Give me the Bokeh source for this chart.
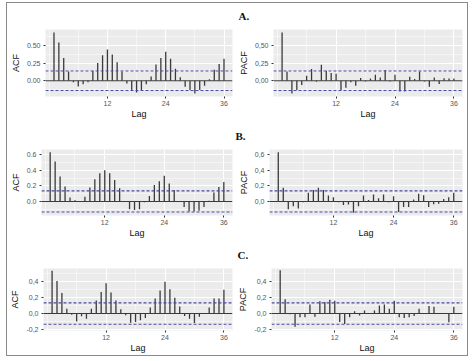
from bokeh.plotting import figure
from bokeh.layouts import column, row
from bokeh.models import FixedTicker, Span, CustomJSTickFormatter, Range1d, ColumnDataSource
from bokeh.embed import file_html
from bokeh.resources import INLINE

# ---------------- data ----------------
lags = list(range(1, 37))

acf_A = [0.68, 0.54, 0.32, 0.13, -0.02, -0.08, -0.05, -0.02, 0.14, 0.25, 0.36, 0.44,
         0.37, 0.26, 0.13, -0.04, -0.13, -0.165, -0.13, -0.05, 0.06, 0.23, 0.32, 0.41,
         0.31, 0.17, 0.05, -0.085, -0.13, -0.18, -0.13, -0.07, 0.02, 0.155, 0.235, 0.31]
pacf_A = [0.68, 0.13, -0.18, -0.13, -0.06, 0.07, 0.165, -0.015, 0.225, 0.14, 0.11, 0.10,
          -0.13, -0.10, -0.02, -0.07, 0.04, -0.01, 0.03, 0.085, 0.045, 0.15, -0.01, 0.085,
          -0.15, -0.15, 0.055, 0.025, 0.13, -0.01, -0.085, 0.045, -0.045, 0.035, 0.03, 0.03]

acf_B = [0.63, 0.51, 0.32, 0.19, 0.05, 0.015, -0.005, 0.06, 0.18, 0.285, 0.36, 0.40,
         0.36, 0.275, 0.17, -0.005, -0.10, -0.11, -0.10, -0.01, 0.07, 0.21, 0.26, 0.33,
         0.23, 0.145, 0.005, -0.07, -0.13, -0.13, -0.12, -0.07, 0.01, 0.115, 0.185, 0.25]
pacf_B = [0.63, 0.175, -0.10, -0.06, -0.09, -0.01, 0.11, 0.145, 0.175, 0.145, 0.075, 0.055,
          -0.01, -0.045, -0.04, -0.145, -0.06, 0.075, 0.02, 0.09, 0.04, 0.09, -0.01, 0.065,
          -0.135, -0.07, -0.07, 0.025, 0.10, 0.08, -0.07, -0.035, -0.03, 0.03, 0.055, 0.11]

acf_C = [0.54, 0.41, 0.26, 0.06, -0.015, -0.10, -0.035, -0.065, 0.06, 0.165, 0.27, 0.38,
         0.265, 0.165, 0.055, -0.02, -0.115, -0.105, -0.085, -0.055, 0.075, 0.19, 0.29, 0.40,
         0.305, 0.20, 0.09, -0.03, -0.065, -0.12, -0.04, 0.005, 0.075, 0.19, 0.19, 0.30]
pacf_C = [0.545, 0.18, -0.01, -0.165, -0.045, -0.045, 0.115, -0.04, 0.155, 0.145, 0.175, 0.16,
          -0.105, -0.13, -0.045, 0.03, -0.025, 0.04, 0.005, 0.04, 0.10, 0.115, 0.06, 0.16,
          -0.045, -0.055, -0.045, -0.03, 0.06, 0.0, 0.095, 0.085, -0.005, -0.005, -0.11, 0.085]

ci_A = 0.137
ci_B = 0.135
ci_C = 0.135

panel_labels = ["A.", "B.", "C."]
x_ticks = [12, 24, 36]
x_minor = [0, 6, 18, 30]
y_ticks_A = [0.0, 0.25, 0.5]
y_minor_A = [-0.125, 0.125, 0.375, 0.625]
y_ticks_B = [0.0, 0.2, 0.4, 0.6]
y_minor_B = [-0.1, 0.1, 0.3, 0.5]
y_ticks_C = [-0.2, 0.0, 0.2, 0.4]
y_minor_C = [-0.1, 0.1, 0.3, 0.5]

FONT = "Liberation Sans"


def make_panel(vals, ci, ylabel, yr, yticks, yminor, digits, sep,
               width, height, bl, br, bt, bb, label=None):
    p = figure(width=width, height=height, output_backend="svg", toolbar_location=None,
               x_range=Range1d(-0.75, 37.75), y_range=Range1d(*yr),
               min_border_left=bl, min_border_right=br,
               min_border_top=bt, min_border_bottom=bb)
    p.background_fill_color = "#EBEBEB"
    p.border_fill_color = "white"
    p.outline_line_color = None

    p.xaxis.ticker = FixedTicker(ticks=x_ticks, minor_ticks=x_minor)
    p.yaxis.ticker = FixedTicker(ticks=yticks, minor_ticks=yminor)
    p.yaxis.formatter = CustomJSTickFormatter(
        code="return tick.toFixed(%d).replace('.', '%s');" % (digits, sep))

    for g in (p.xgrid, p.ygrid):
        g.grid_line_color = "white"
        g.grid_line_width = 1.1
        g.minor_grid_line_color = "white"
        g.minor_grid_line_width = 0.5

    for ax in (p.xaxis, p.yaxis):
        ax.axis_line_color = None
        ax.major_tick_in = 0
        ax.major_tick_out = 2
        ax.major_tick_line_color = "#333333"
        ax.major_tick_line_width = 1
        ax.minor_tick_line_color = None
        ax.major_label_text_font = FONT
        ax.major_label_text_font_size = "7px"
        ax.major_label_text_color = "#555555"
        ax.axis_label_text_font = FONT
        ax.axis_label_text_font_size = "9px"
        ax.axis_label_text_font_style = "normal"
        ax.axis_label_text_color = "#111111"
    p.xaxis.major_label_standoff = 0
    p.yaxis.major_label_standoff = 1
    p.xaxis.axis_label = "Lag"
    p.xaxis.axis_label_standoff = 0
    p.yaxis.axis_label = ylabel
    p.yaxis.axis_label_standoff = 3

    src = ColumnDataSource(dict(lag=lags, val=vals, zero=[0.0] * len(lags)))
    p.segment(x0="lag", y0="zero", x1="lag", y1="val", source=src,
              line_color="#3a3a3a", line_width=1.3)

    p.add_layout(Span(location=0, dimension="width", line_color="#3a3a3a", line_width=1.1))
    for loc in (ci, -ci):
        p.add_layout(Span(location=loc, dimension="width", line_color="#4a4aa8",
                          line_width=1.1, line_dash="3 2"))

    if label:
        p.title.text = label
        p.title.align = "left"
        p.title.offset = -bl
        p.title.standoff = 12
        p.title.vertical_align = "top"
        p.title.text_font = "Liberation Serif"
        p.title.text_font_style = "bold"
        p.title.text_font_size = "11px"
        p.title.text_color = "#111111"
    return p


WL = 228
WR = 232
a1 = make_panel(acf_A, ci_A, "ACF", (-0.222, 0.722), y_ticks_A, y_minor_A, 2, ".",
                WL, 120, 34, 3, 25, 27)
a2 = make_panel(pacf_A, ci_A, "PACF", (-0.222, 0.722), y_ticks_A, y_minor_A, 2, ",",
                WR, 120, 35, 5, 25, 27, panel_labels[0])
b1 = make_panel(acf_B, ci_B, "ACF", (-0.18, 0.665), y_ticks_B, y_minor_B, 1, ".",
                WL, 119, 29, 3, 25, 27)
b2 = make_panel(pacf_B, ci_B, "PACF", (-0.18, 0.665), y_ticks_B, y_minor_B, 1, ",",
                WR, 119, 34, 5, 25, 27, panel_labels[1])
c1 = make_panel(acf_C, ci_C, "ACF", (-0.213, 0.567), y_ticks_C, y_minor_C, 1, ",",
                WL, 113, 32, 3, 25, 21)
c2 = make_panel(pacf_C, ci_C, "PACF", (-0.213, 0.567), y_ticks_C, y_minor_C, 1, ",",
                WR, 113, 34, 5, 25, 21, panel_labels[2])

layout = column(row(a1, a2), row(b1, b2), row(c1, c2),
                margin=(3, 0, 0, 7),
                styles={"outline": "1.5px solid #8a8a8a", "outline-offset": "0px"})

open("out.html", "w").write(file_html(layout, INLINE))
